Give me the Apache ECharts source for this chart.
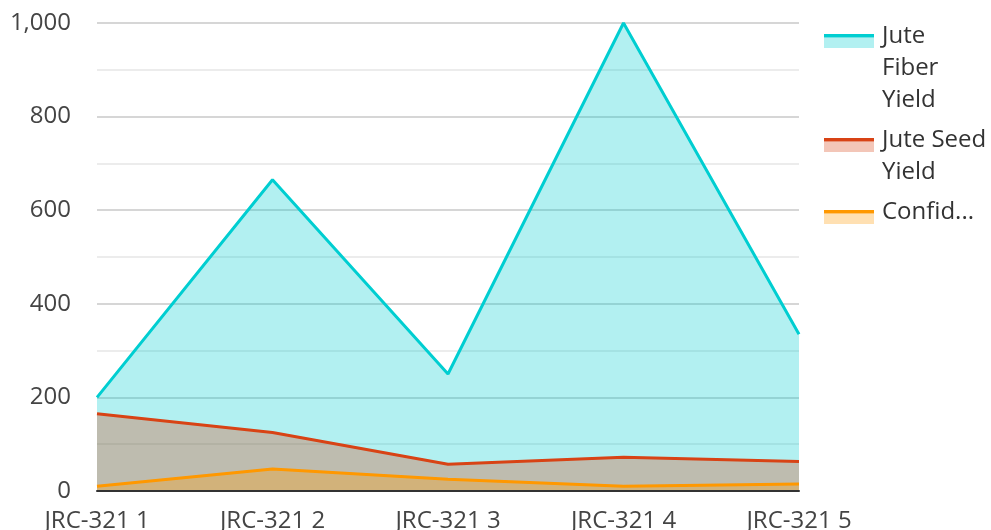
<!DOCTYPE html>
<html><head><meta charset="utf-8">
<script src="https://cdn.jsdelivr.net/npm/echarts@6/dist/echarts.min.js"></script>
<style>html,body{margin:0;padding:0;background:#fff}#c{width:991px;height:530px}</style>
</head><body><div id="c"></div>
<script>
var categories = ['JRC-321 1', 'JRC-321 2', 'JRC-321 3', 'JRC-321 4', 'JRC-321 5'];
var fiberYield = [200, 665, 250, 1000, 335];
var seedYield = [165, 125, 57, 72, 63];
var confidence = [10, 47, 25, 10, 15];
var seriesNames = ['Jute Fiber Yield', 'Jute Seed Yield', 'Confidence Interval'];
var legendLabels = ['Jute\nFiber\nYield', 'Jute Seed\nYield', 'Confid...'];
var lineColors = ['#00CED1', '#D84315', '#FF9800'];
var yTicks = [0, 200, 400, 600, 800, 1000];

var FONT = '"Open Sans", "Noto Sans", sans-serif';
function icon(color, h) {
  var svg = '<svg xmlns="http://www.w3.org/2000/svg" width="53" height="' + h + '" viewBox="0 0 53 ' + h + '">' +
    '<rect x="0" y="17.5" width="50" height="10.5" fill="' + color + '" fill-opacity="0.3"/>' +
    '<rect x="0" y="14" width="50" height="3.5" fill="' + color + '"/></svg>';
  return 'image://data:image/svg+xml;charset=utf-8,' + encodeURIComponent(svg);
}
var legendHeights = [96, 64, 32];
var legendTops = [20, 124, 196];
var legends = seriesNames.map(function (n, i) {
  return {
    orient: 'vertical', left: 824, top: legendTops[i], padding: 0,
    itemWidth: 53, itemHeight: legendHeights[i], symbolKeepAspect: false,
    data: [{ name: n, icon: icon(lineColors[i], legendHeights[i]) }],
    formatter: function (name) { return legendLabels[seriesNames.indexOf(name)]; },
    textStyle: { fontFamily: FONT, fontSize: 24, color: '#333', lineHeight: 32 }
  };
});
var dataSets = [fiberYield, seedYield, confidence];
var chart = echarts.init(document.getElementById('c'), null, { renderer: 'canvas' });
chart.setOption({
  animation: false,
  legend: legends,
  grid: { left: 97, right: 192, top: 23, bottom: 39, containLabel: false, outerBoundsMode: 'none' },
  xAxis: {
    type: 'category', data: categories, boundaryGap: false, z: 5,
    axisLine: { lineStyle: { color: '#333', width: 2 } },
    axisTick: { show: false },
    axisLabel: { fontFamily: FONT, fontSize: 24, color: '#444', margin: 18 }
  },
  yAxis: {
    type: 'value', min: yTicks[0], max: yTicks[yTicks.length - 1], interval: 200,
    axisLine: { show: false }, axisTick: { show: false },
    axisLabel: { fontFamily: FONT, fontSize: 24, color: '#444', margin: 26,
      formatter: function (v) { return v.toLocaleString('en-US'); } },
    splitLine: { lineStyle: { color: '#c8c8c8', width: 1.5 } },
    minorTick: { show: false, splitNumber: 2 },
    minorSplitLine: { show: true, lineStyle: { color: '#e6e6e6', width: 1.5 } }
  },
  series: seriesNames.map(function (n, i) {
    return {
      name: n, type: 'line', data: dataSets[i], showSymbol: false, symbol: 'none',
      lineStyle: { color: lineColors[i], width: 3 },
      itemStyle: { color: lineColors[i] },
      areaStyle: { color: lineColors[i], opacity: 0.3 }
    };
  })
});
</script></body></html>
